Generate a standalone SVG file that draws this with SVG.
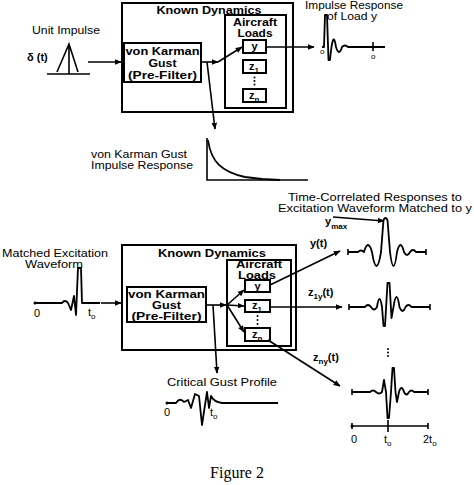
<svg xmlns="http://www.w3.org/2000/svg" width="474" height="485" viewBox="0 0 474 485">
<style>
text{font-family:"Liberation Sans",Arial,sans-serif;font-size:11px;fill:#000}
.b{font-weight:bold}
.m{text-anchor:middle}
.s{font-size:8px}
.box{fill:none;stroke:#000;stroke-width:2}
.ln{fill:none;stroke:#000;stroke-width:1.6}
.w{fill:none;stroke:#000;stroke-width:1.8;stroke-linejoin:round}
.fig{font-family:"Liberation Serif","Times New Roman",serif;font-size:16px}
</style>
<defs>
<marker id="ah" viewBox="0 0 10 10" refX="9" refY="5" markerWidth="7" markerHeight="7" markerUnits="userSpaceOnUse" orient="auto">
<path d="M0,1 L10,5 L0,9 Z" fill="#000"/>
</marker>
</defs>

<!-- ===== TOP SECTION ===== -->
<g id="unit-impulse">
<text class="m" x="66" y="34" textLength="68" lengthAdjust="spacingAndGlyphs">Unit Impulse</text>
<text class="b" x="27" y="61" font-size="12">δ (t)</text>
<path class="ln" d="M57,72 L69,44 L78,72 M69,44 L69,74 M47,74 L90,74"/>
</g>

<g id="known-dynamics-top">
<rect class="box" x="122" y="3" width="171" height="109"/>
<text class="b m" x="209" y="14" textLength="105" lengthAdjust="spacingAndGlyphs">Known Dynamics</text>
</g>

<g id="vk-gust-top">
<rect class="box" x="124" y="43" width="77" height="39"/>
<text class="b m" x="162.5" y="55" textLength="74" lengthAdjust="spacingAndGlyphs">von Karman</text>
<text class="b m" x="162.5" y="67" textLength="28" lengthAdjust="spacingAndGlyphs">Gust</text>
<text class="b m" x="162.5" y="79" textLength="69" lengthAdjust="spacingAndGlyphs">(Pre-Filter)</text>
</g>

<g id="aircraft-loads-top">
<rect class="box" x="225" y="15" width="61" height="93"/>
<text class="b m" x="255" y="26" textLength="44" lengthAdjust="spacingAndGlyphs">Aircraft</text>
<text class="b m" x="255" y="37" textLength="35" lengthAdjust="spacingAndGlyphs">Loads</text>
</g>
<g id="y-top">
<rect class="box" x="243" y="40" width="23" height="13"/>
<text class="b m" x="254.5" y="50">y</text>
</g>
<g id="z1-top">
<rect class="box" x="243" y="60" width="23" height="13"/>
<text class="b" x="249" y="70">z<tspan class="s" dy="3">1</tspan></text>
</g>
<g id="dots-top">
<circle cx="254.5" cy="77.5" r="1"/><circle cx="254.5" cy="81" r="1"/><circle cx="254.5" cy="84.5" r="1"/>
</g>
<g id="zn-top">
<rect class="box" x="243" y="89" width="23" height="13"/>
<text class="b" x="249" y="99">z<tspan class="s" dy="3">n</tspan></text>
</g>

<g id="load-y-response">
<text class="m" x="354" y="9" textLength="98" lengthAdjust="spacingAndGlyphs">Impulse Response</text>
<text class="m" x="352" y="20" textLength="50" lengthAdjust="spacingAndGlyphs">of Load y</text>
<path class="w" d="M322,47 L324,47 L325,15 L327,15 L328.5,60 L330,60 Q333,27 336,47 Q339,57 342,47 Q345,44 348,47 L385,47"/>
<path class="ln" d="M373,42 L373,51"/>
<text class="s" x="320" y="54">o</text>
<text class="s" x="371" y="59">o</text>
</g>

<g id="vk-impulse-response">
<text x="91" y="158" textLength="96" lengthAdjust="spacingAndGlyphs">von Karman Gust</text>
<text x="91" y="169" textLength="102" lengthAdjust="spacingAndGlyphs">Impulse Response</text>
<path class="ln" d="M207,138 L207,180 L308,180"/>
<path class="w" d="M208,140 C211,162 222,172 245,177 L262,179 L280,180"/>
</g>

<!-- ===== BOTTOM SECTION ===== -->
<g id="matched-excitation">
<text class="m" x="55" y="257" textLength="106" lengthAdjust="spacingAndGlyphs">Matched Excitation</text>
<text class="m" x="54" y="268" textLength="58" lengthAdjust="spacingAndGlyphs">Waveform</text>
<path class="w" d="M35,303 L62,303 Q65,299 68,303 L71,310 L74,296 L76,315 L78,268 L81,268 L82,303 L100,303"/>
<circle cx="35" cy="303" r="1.5"/>
<text x="34" y="317">0</text>
<text x="88" y="316">t<tspan class="s" dy="3">o</tspan></text>
</g>

<g id="known-dynamics-bottom">
<rect class="box" x="122" y="245" width="174" height="105"/>
<text class="b m" x="212" y="257" textLength="108" lengthAdjust="spacingAndGlyphs">Known Dynamics</text>
</g>

<g id="vk-gust-bottom">
<rect class="box" x="127" y="287" width="79" height="35"/>
<text class="b m" x="166.5" y="298" textLength="77" lengthAdjust="spacingAndGlyphs">von Karman</text>
<text class="b m" x="166.5" y="309" textLength="29" lengthAdjust="spacingAndGlyphs">Gust</text>
<text class="b m" x="166.5" y="320" textLength="70" lengthAdjust="spacingAndGlyphs">(Pre-Filter)</text>
</g>

<g id="aircraft-loads-bottom">
<rect class="box" x="227" y="260" width="64" height="86"/>
<text class="b m" x="259" y="268" textLength="46" lengthAdjust="spacingAndGlyphs">Aircraft</text>
<text class="b m" x="257" y="279" textLength="38" lengthAdjust="spacingAndGlyphs">Loads</text>
</g>
<g id="y-bottom">
<rect class="box" x="245" y="280" width="25" height="12"/>
<text class="b m" x="257.5" y="290">y</text>
</g>
<g id="z1-bottom">
<rect class="box" x="245" y="300" width="25" height="12"/>
<text class="b" x="252" y="309">z<tspan class="s" dy="3">1</tspan></text>
</g>
<g id="dots-bottom">
<circle cx="257.5" cy="316" r="1"/><circle cx="257.5" cy="320" r="1"/><circle cx="257.5" cy="324" r="1"/>
</g>
<g id="zn-bottom">
<rect class="box" x="245" y="328" width="25" height="13"/>
<text class="b" x="252" y="338">z<tspan class="s" dy="3">n</tspan></text>
</g>

<g id="critical-gust">
<text class="m" x="222" y="386" textLength="110" lengthAdjust="spacingAndGlyphs">Critical Gust Profile</text>
<path class="w" d="M167,403 L176,403 Q180,397 184,402 L188,400 L191,408 L195,394 L199,396 L202,425 L205,405 L207,392 L209,408 L211,396 Q214,402 222,403 L278,403"/>
<circle cx="167" cy="403" r="1.5"/>
<text x="164" y="416">0</text>
<text x="210" y="416">t<tspan class="s" dy="3">o</tspan></text>
</g>

<g id="responses-title">
<text class="m" x="375" y="200.5" textLength="174" lengthAdjust="spacingAndGlyphs">Time-Correlated Responses to</text>
<text class="m" x="375" y="211.5" textLength="194" lengthAdjust="spacingAndGlyphs">Excitation Waveform Matched  to y</text>
</g>

<g id="response-y">
<text class="b" x="325" y="225">y<tspan class="s" dy="4" font-size="9">max</tspan></text>
<path class="w" d="M348,252 L358,252 Q361,249 364,252 Q368,238 372,252 Q376.5,280 381,252 L383.5,220 Q385.5,216 387.5,220 L390,252 Q393.5,280 397,252 Q400.5,238 404,252 Q407,258 410,252 Q413,248 416,252 L426,252"/>
<path class="ln" d="M348,249 L348,255 M426,249 L426,255"/>
</g>

<g id="response-z1">
<path class="w" d="M349,307 L365,307 Q368,303 371,307 Q374,312 377,307 Q379.5,291 382,307 L383.5,326 L385,326 L387.5,283 L389.5,283 L391.5,318 L393.5,307 Q396.5,287 399.5,307 Q402.5,315 405.5,307 Q408.5,303 411.5,307 L430,307"/>
<path class="ln" d="M349,304 L349,310 M430,304 L430,310"/>
</g>

<g id="vdots-responses">
<circle cx="388" cy="349" r="1"/><circle cx="388" cy="352.5" r="1"/><circle cx="388" cy="356" r="1"/>
</g>

<g id="response-zn">
<path class="w" d="M352,392 L370,392 Q373,389 376,392 Q379,395 382,392 L384,380 L386,392 L387.5,418 L389,418 L391,392 L392.5,368 L394,368 L395.5,392 L397,402 L399,392 Q401.5,384 404,392 Q406.5,397 409,392 Q411.5,389 414,392 L428,392"/>
<path class="ln" d="M352,389 L352,395 M428,389 L428,395"/>
</g>

<g id="time-axis">
<path class="ln" d="M352,426 L428,426 M388,420 L388,432 M352,423 L352,429 M428,423 L428,429"/>
<circle cx="352" cy="426" r="1.5"/>
<text x="351" y="443" font-size="12">0</text>
<text x="384" y="443" font-size="12">t<tspan class="s" dy="3" font-size="9">o</tspan></text>
<text x="423" y="443" font-size="12">2t<tspan class="s" dy="3" font-size="9">o</tspan></text>
</g>

<g id="connectors">
<!-- top -->
<path class="ln" d="M88,62 L121,62" marker-end="url(#ah)"/>
<path class="ln" d="M201,62 L218,62" marker-end="url(#ah)"/>
<path class="ln" d="M218,62 L242,47" marker-end="url(#ah)"/>
<path class="ln" d="M266,47 L314,47" marker-end="url(#ah)"/>
<path class="ln" d="M207,62 L215,129" marker-end="url(#ah)"/>
<!-- bottom -->
<path class="ln" d="M101,303 L121,303" marker-end="url(#ah)"/>
<path class="ln" d="M206,305 L226,305" marker-end="url(#ah)"/>
<path class="ln" d="M227,305 L244,290" marker-end="url(#ah)"/>
<path class="ln" d="M227,305 L244,306" marker-end="url(#ah)"/>
<path class="ln" d="M227,305 L244,332" marker-end="url(#ah)"/>
<path class="ln" d="M270,285 L340,251" marker-end="url(#ah)"/>
<path class="ln" d="M270,307 L342,307" marker-end="url(#ah)"/>
<path class="ln" d="M268,340 L340,386" marker-end="url(#ah)"/>
<path class="ln" d="M213,305 L217,373" marker-end="url(#ah)"/>
<path class="ln" d="M333,217 L384,221" marker-end="url(#ah)"/>
</g>

<g id="connector-labels">
<text class="b" x="310" y="247">y(t)</text>
<text class="b" x="308" y="296">z<tspan class="s" dy="3">1y</tspan><tspan dy="-3">(t)</tspan></text>
<text class="b" x="313" y="361">z<tspan class="s" dy="3">ny</tspan><tspan dy="-3">(t)</tspan></text>
</g>

<text class="fig m" x="237" y="478">Figure 2</text>
</svg>
